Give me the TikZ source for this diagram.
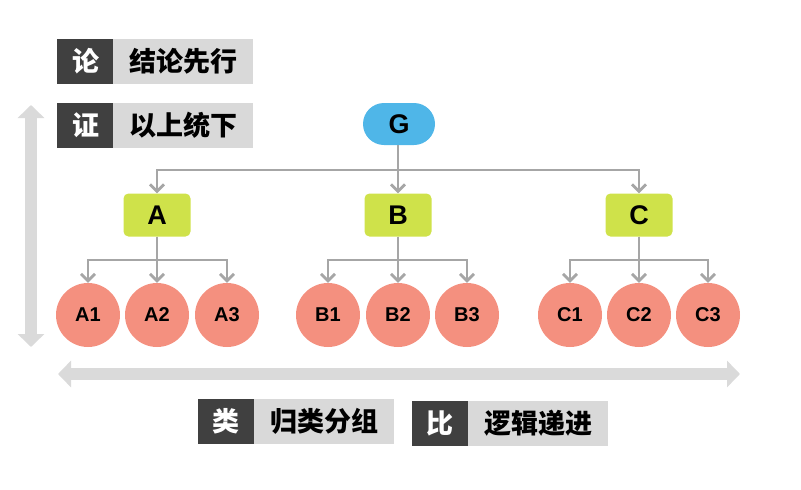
\documentclass[tikz,border=0pt]{standalone}
\usepackage{fontspec}
\setmainfont{Liberation Sans}
\newfontfamily\cjk{Noto Sans CJK SC}
\usetikzlibrary{arrows.meta}
\definecolor{gblue}{HTML}{4FB6E8}
\definecolor{lime}{HTML}{CFE24A}
\definecolor{salmon}{HTML}{F4907F}
\definecolor{conngray}{HTML}{A6A6A6}
\definecolor{biggray}{HTML}{DADADA}
\definecolor{darkbox}{HTML}{404040}
\definecolor{lightbox}{HTML}{D9D9D9}
\tikzset{
  goal/.style={fill=gblue, rounded corners=21pt, minimum width=72pt, minimum height=42pt, inner sep=0pt, font=\fontsize{27}{27}\selectfont\bfseries},
  mid/.style={fill=lime, rounded corners=5pt, minimum width=67pt, minimum height=43pt, inner sep=0pt, font=\fontsize{27}{27}\selectfont\bfseries},
  leaf/.style={circle, fill=salmon, minimum size=64pt, inner sep=0pt, font=\fontsize{20}{20}\selectfont\bfseries},
  conn/.style={draw=conngray, line width=2.8pt},
  arr/.style={conn, -{Straight Barb[length=7pt,width=14pt]}},
  big/.style={draw=biggray, line width=12pt, {Triangle[length=13pt,width=26pt]}-{Triangle[length=13pt,width=26pt]}},
  tagd/.style={fill=darkbox, text=white, minimum width=57pt, minimum height=45pt, inner sep=0pt, font=\cjk\fontsize{27}{27}\selectfont\bfseries},
  tagl/.style={fill=lightbox, text=black, minimum width=140pt, minimum height=45pt, inner sep=0pt, font=\cjk\fontsize{27}{27}\selectfont\bfseries},
}
\begin{document}
\begin{tikzpicture}[x=1pt,y=-1pt]
\useasboundingbox (0,0) rectangle (801,490);
% big arrows
\coordinate (vt) at (31,105);
\coordinate (vb) at (31,347);
\coordinate (hl) at (58,374);
\coordinate (hr) at (740,374);
\draw[big] (vt) -- (vb);
\draw[big] (hl) -- (hr);
% tags
\node[tagd] (t1) at (85.5,61.5) {论};
\node[tagl] (t1b) at (183,61.5) {结论先行};
\node[tagd] (t2) at (85.5,125.5) {证};
\node[tagl] (t2b) at (183,125.5) {以上统下};
\node[tagd] (t3) at (226,421.5) {类};
\node[tagl] (t3b) at (324,421.5) {归类分组};
\node[tagd] (t4) at (440,423.5) {比};
\node[tagl] (t4b) at (538,423.5) {逻辑递进};
% tree
\node[goal] (G) at (399,124) {G};
\node[mid] (A) at (157,215) {A};
\node[mid] (B) at (398,215) {B};
\node[mid] (C) at (639,215) {C};
\node[leaf] (A1) at (88,315) {A1};
\node[leaf] (A2) at (157,315) {A2};
\node[leaf] (A3) at (227,315) {A3};
\node[leaf] (B1) at (328,315) {B1};
\node[leaf] (B2) at (398,315) {B2};
\node[leaf] (B3) at (467,315) {B3};
\node[leaf] (C1) at (570,315) {C1};
\node[leaf] (C2) at (639,315) {C2};
\node[leaf] (C3) at (708,315) {C3};
\coordinate (h1) at (398,170);
\coordinate (h2) at (0,260);
\draw[conn] (G.south -| h1) -- (h1);
\draw[arr] (h1) -| (A.north);
\draw[arr] (h1) -| (C.north);
\draw[arr] (h1) -- (B.north);
\foreach \p in {A,B,C}{
  \draw[arr] (\p.south) -- (\p2.north);
  \draw[arr] (\p.south) -- (\p.south |- h2) -| (\p1.north);
  \draw[arr] (\p.south |- h2) -| (\p3.north);
}
\end{tikzpicture}
\end{document}
